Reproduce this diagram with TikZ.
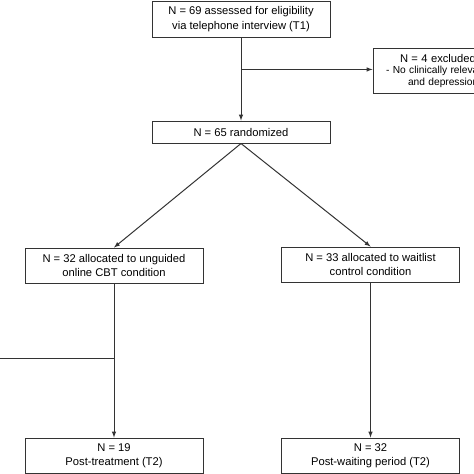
\documentclass[tikz,border=0pt]{standalone}
\usepackage{fontspec}
\setmainfont{Liberation Sans}
\usepackage{tikz}
\usetikzlibrary{shapes,arrows,positioning,shadows,calc}
\usepackage{xcolor}

\begin{document}
\begin{tikzpicture}[
    node distance=1.5cm and 0.8cm,
    box/.style={rectangle, draw=black!80, fill=white, line width=1pt, minimum width=178pt, minimum height=35pt, text centered, align=center, font=\fontsize{11.2}{14.5}\selectfont, text=black, drop shadow={shadow xshift=0.8pt, shadow yshift=-1pt, fill=black!25}},
    small/.style={rectangle, draw=black!80, fill=white, line width=1pt, minimum width=178pt, minimum height=22pt, text centered, font=\fontsize{11.2}{14.5}\selectfont, text=black, drop shadow={shadow xshift=0.8pt, shadow yshift=-1pt, fill=black!25}},
    exclbox/.style={rectangle, draw=black!80, fill=white, line width=1pt, text width=134pt, minimum height=45pt, inner sep=3pt, align=left, font=\fontsize{10.2}{11.5}\selectfont, text=black},
    arrow/.style={->, >=latex, line width=1pt, draw=black!80},
    line/.style={line width=1pt, draw=black!80}
]

\useasboundingbox (0,0) rectangle (474pt,-474pt);
\clip (0,0) rectangle (474pt,-474pt);

% Nodes
\node (elig) [box, minimum height=36pt] at (241pt,-19pt) {N = 69 assessed for eligibility\\via telephone interview (T1)};
\node (excl) [exclbox, below right=10pt and 42pt of elig] {\hspace*{24pt}{\fontsize{11.2}{13}\selectfont N = 4 excluded}\\\hspace*{10pt}- No clinically relevant\\\hspace*{32pt}and depression};
\node (rand) [small, below=83pt of elig] {N = 65 randomized};
\node (cbt) [box, below=104pt of rand, xshift=-127pt] {N = 32 allocated to unguided\\online CBT condition};
\node (wait) [box, below=103pt of rand, xshift=129.5pt] {N = 33 allocated to waitlist\\control condition};
\node (post1) [box, below=154pt of cbt] {N = 19\\Post-treatment (T2)};
\node (post2) [box, below=155pt of wait] {N = 32\\Post-waiting period (T2)};

% Branch points
\coordinate (split) at ($(elig.south)!0.385!(rand.north)$);
\coordinate (drop) at (-10pt,-358pt);

% Arrows
\draw [arrow] (elig) -- (rand);
\draw [arrow] (split) -- (split -| excl.west);
\draw [arrow] (rand.south) -- (cbt.north);
\draw [arrow] (rand.south) -- (wait.north);
\draw [arrow] (cbt) -- (post1);
\draw [arrow] (wait) -- (post2);
\draw [line] (drop) -- (drop -| cbt.south);

\end{tikzpicture}
\end{document}
